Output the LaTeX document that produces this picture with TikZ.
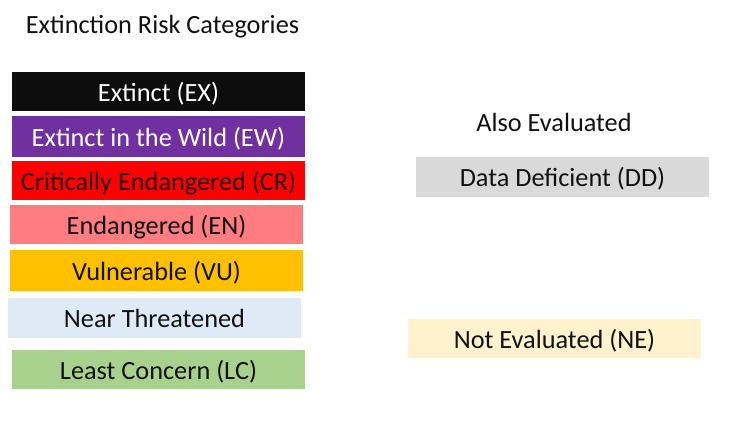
\documentclass[tikz,border=0pt]{standalone}
\usepackage{fontspec}
\setmainfont{Carlito}
\definecolor{cEX}{HTML}{0D0D0D}
\definecolor{cEW}{HTML}{7030A0}
\definecolor{cCR}{HTML}{FF0000}
\definecolor{cEN}{HTML}{FF7C80}
\definecolor{cVU}{HTML}{FFC000}
\definecolor{cNT}{HTML}{DEEBF7}
\definecolor{cLC}{HTML}{A9D18E}
\definecolor{cDD}{HTML}{D9D9D9}
\definecolor{cNE}{HTML}{FFF2CC}
\definecolor{txtdark}{HTML}{111111}
\begin{document}
\begin{tikzpicture}[x=1pt,y=-1pt,
  cat/.style={rectangle, inner sep=0pt, minimum width=293pt, minimum height=39pt,
    text height=23pt, text depth=4pt, font=\fontsize{26.3}{30}\selectfont, text=txtdark},
  lbl/.style={inner sep=0pt, text height=23pt, text depth=4pt, font=\fontsize{26.3}{30}\selectfont, text=txtdark}]
\useasboundingbox[fill=white] (0,0) rectangle (750,421);
\node[lbl] (title) at (162.5,23.5) {Extinction Risk Categories};
\node[cat, fill=cEX, text=white] (ex) at (158.5,91.5) {Extinct (EX)};
\node[cat, fill=cEW, text=white, minimum height=41pt] (ew) at (158.5,136.5) {Extinct in the Wild (EW)};
\node[cat, fill=cCR, text=black!85!red] (cr) at (158.5,180.5) {Critically Endangered (CR)};
\node[cat, fill=cEN] (en) at (156.5,224.5) {Endangered (EN)};
\node[cat, fill=cVU, minimum height=41pt] (vu) at (156.5,270.5) {Vulnerable (VU)};
\node[cat, fill=cNT, minimum height=40pt] (nt) at (154.5,318) {Near Threatened};
\node[cat, fill=cLC] (lc) at (158.5,369.5) {Least Concern (LC)};
\node[lbl] (also) at (554,121.5) {Also Evaluated};
\node[cat, fill=cDD, minimum height=40pt] (dd) at (562.5,177) {Data Deficient (DD)};
\node[cat, fill=cNE] (ne) at (554.5,338.5) {Not Evaluated (NE)};
\end{tikzpicture}
\end{document}
